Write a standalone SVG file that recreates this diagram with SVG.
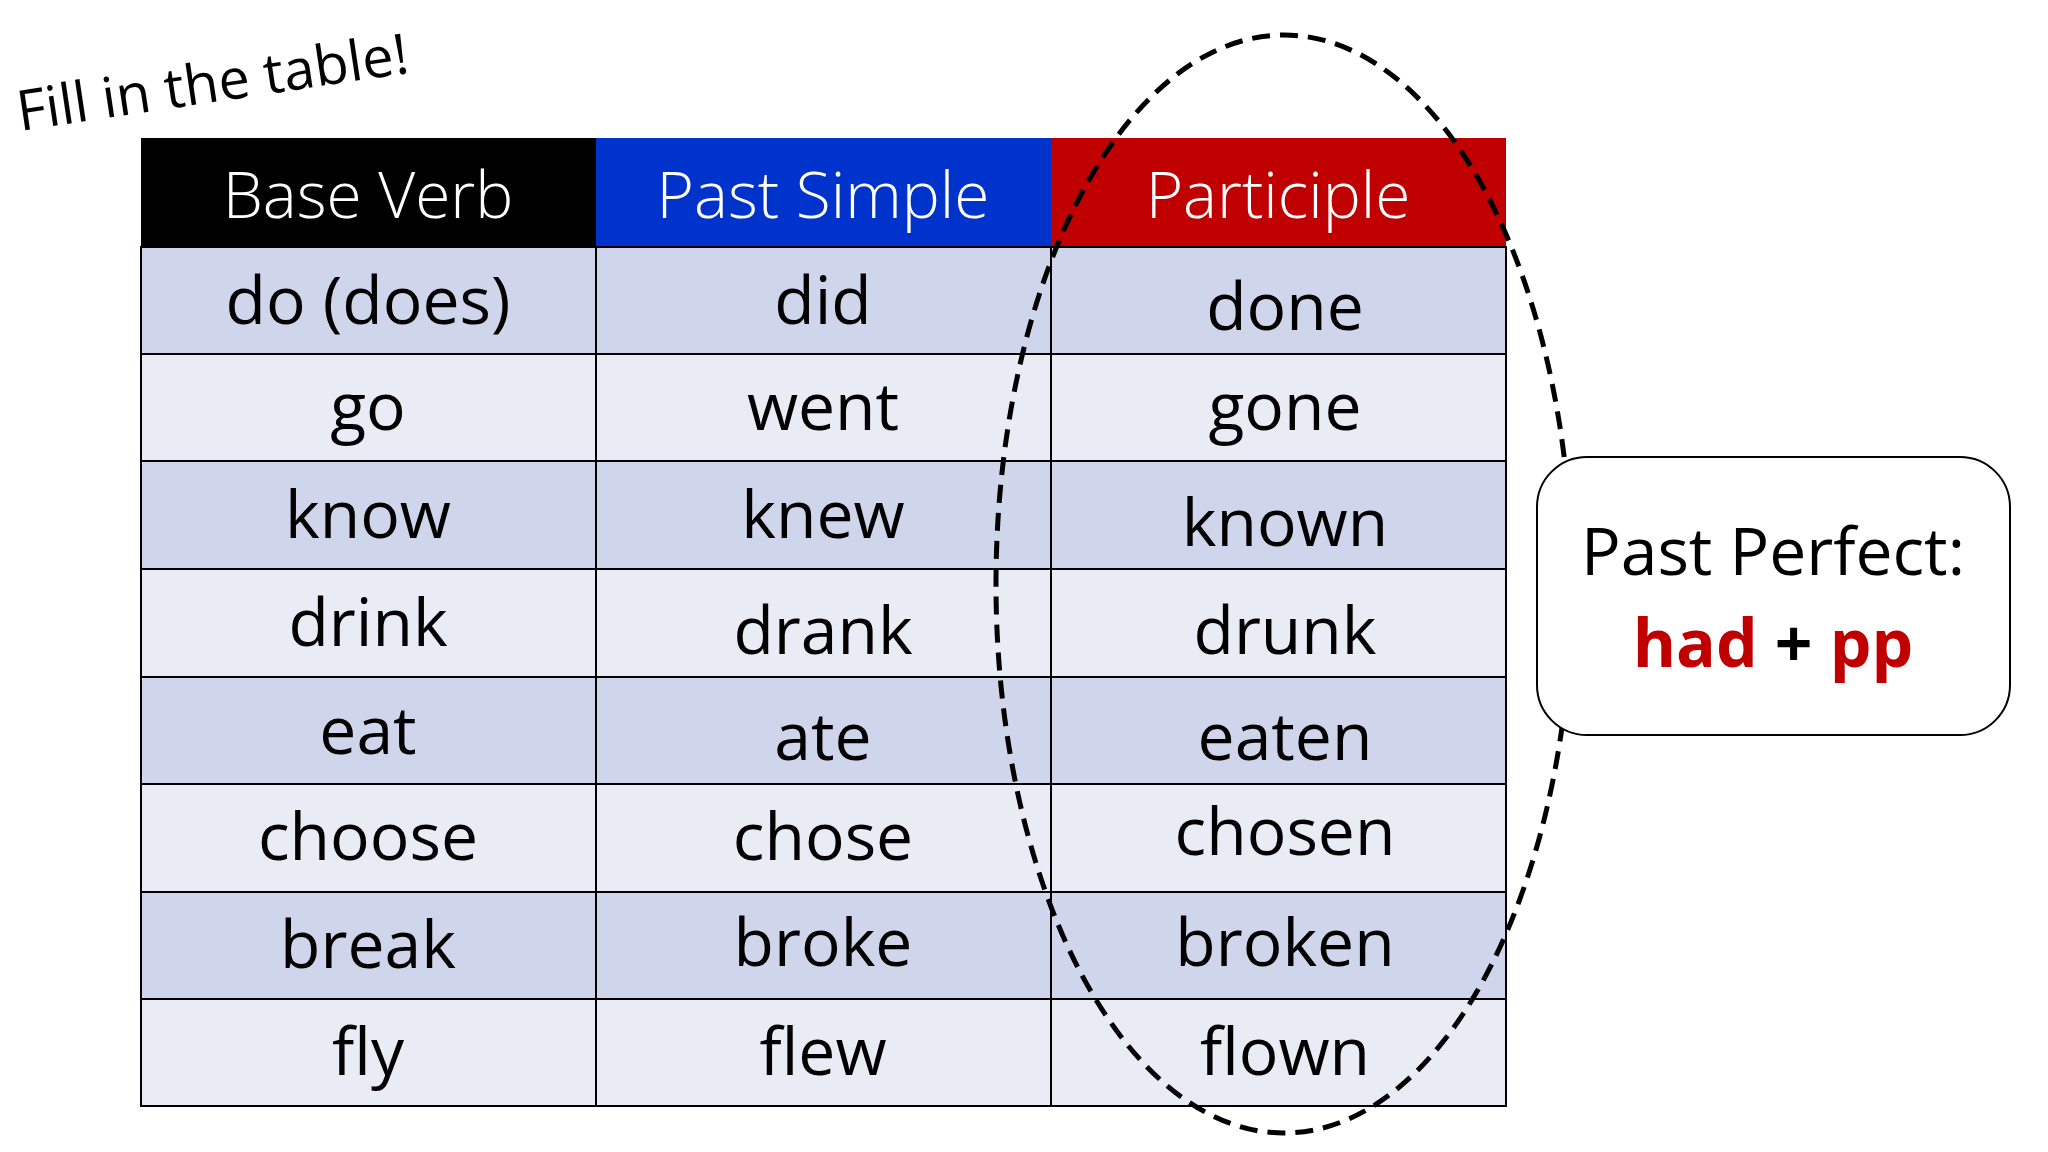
<svg xmlns="http://www.w3.org/2000/svg" width="2048" height="1152" viewBox="0 0 2048 1152">
<style>
.c{font-family:"Open Sans","Liberation Sans",sans-serif;font-size:66px;fill:#000;text-anchor:middle}
.h{font-family:"Open Sans","Liberation Sans",sans-serif;font-size:64px;font-weight:300;fill:#fff;text-anchor:middle}
.o{fill:#CFD5EA;stroke:#000;stroke-width:2}
.e{fill:#E9EBF5;stroke:#000;stroke-width:2}
</style>
<rect width="2048" height="1152" fill="#fff"/>
<text x="20" y="131" transform="rotate(-8.5 20 131)" style="font-family:'Open Sans',sans-serif;font-size:56px;fill:#000">Fill in the table!</text>
<g id="table">
<rect x="141" y="138" width="455" height="109" fill="#000"/>
<rect x="596" y="138" width="455" height="109" fill="#0033CC"/>
<rect x="1051" y="138" width="455" height="109" fill="#C00000"/>
<text class="h" x="368" y="218">Base Verb</text>
<text class="h" x="823" y="218">Past Simple</text>
<text class="h" x="1278" y="218">Participle</text>
<g id="r1"><rect class="o" x="141" y="247" width="455" height="107"/><rect class="o" x="596" y="247" width="455" height="107"/><rect class="o" x="1051" y="247" width="455" height="107" fill="#D0D4EC"/></g>
<g id="r2"><rect class="e" x="141" y="354" width="455" height="107"/><rect class="e" x="596" y="354" width="455" height="107"/><rect class="e" x="1051" y="354" width="455" height="107"/></g>
<g id="r3"><rect class="o" x="141" y="461" width="455" height="108"/><rect class="o" x="596" y="461" width="455" height="108"/><rect class="o" x="1051" y="461" width="455" height="108"/></g>
<g id="r4"><rect class="e" x="141" y="569" width="455" height="108"/><rect class="e" x="596" y="569" width="455" height="108"/><rect class="e" x="1051" y="569" width="455" height="108"/></g>
<g id="r5"><rect class="o" x="141" y="677" width="455" height="107"/><rect class="o" x="596" y="677" width="455" height="107"/><rect class="o" x="1051" y="677" width="455" height="107"/></g>
<g id="r6"><rect class="e" x="141" y="784" width="455" height="108"/><rect class="e" x="596" y="784" width="455" height="108"/><rect class="e" x="1051" y="784" width="455" height="108"/></g>
<g id="r7"><rect class="o" x="141" y="892" width="455" height="107"/><rect class="o" x="596" y="892" width="455" height="107"/><rect class="o" x="1051" y="892" width="455" height="107"/></g>
<g id="r8"><rect class="e" x="141" y="999" width="455" height="107"/><rect class="e" x="596" y="999" width="455" height="107"/><rect class="e" x="1051" y="999" width="455" height="107"/></g>
<text class="c" x="368" y="324">do (does)</text><text class="c" x="823" y="324">did</text><text class="c" x="1285" y="330">done</text>
<text class="c" x="368" y="430">go</text><text class="c" x="823" y="430">went</text><text class="c" x="1285" y="430">gone</text>
<text class="c" x="368" y="538">know</text><text class="c" x="823" y="538">knew</text><text class="c" x="1285" y="546">known</text>
<text class="c" x="368" y="646">drink</text><text class="c" x="823" y="654">drank</text><text class="c" x="1285" y="654">drunk</text>
<text class="c" x="368" y="754">eat</text><text class="c" x="823" y="760">ate</text><text class="c" x="1285" y="760">eaten</text>
<text class="c" x="368" y="860">choose</text><text class="c" x="823" y="860">chose</text><text class="c" x="1285" y="855">chosen</text>
<text class="c" x="368" y="968">break</text><text class="c" x="823" y="966">broke</text><text class="c" x="1285" y="966">broken</text>
<text class="c" x="368" y="1075">fly</text><text class="c" x="823" y="1075">flew</text><text class="c" x="1285" y="1075">flown</text>
</g>
<g id="connectors">
<ellipse cx="1284" cy="584" rx="288" ry="549" fill="none" stroke="#000" stroke-width="5" stroke-dasharray="18 10"/>
</g>
<g id="box">
<rect x="1537" y="457" width="473" height="278" rx="50" fill="#fff" stroke="#000" stroke-width="2"/>
<text class="c" x="1773" y="575" style="font-size:66px">Past Perfect:</text>
<text class="c" x="1773" y="667" style="font-size:66px;font-weight:bold"><tspan fill="#C00000">had</tspan> + <tspan fill="#C00000">pp</tspan></text>
</g>
</svg>
